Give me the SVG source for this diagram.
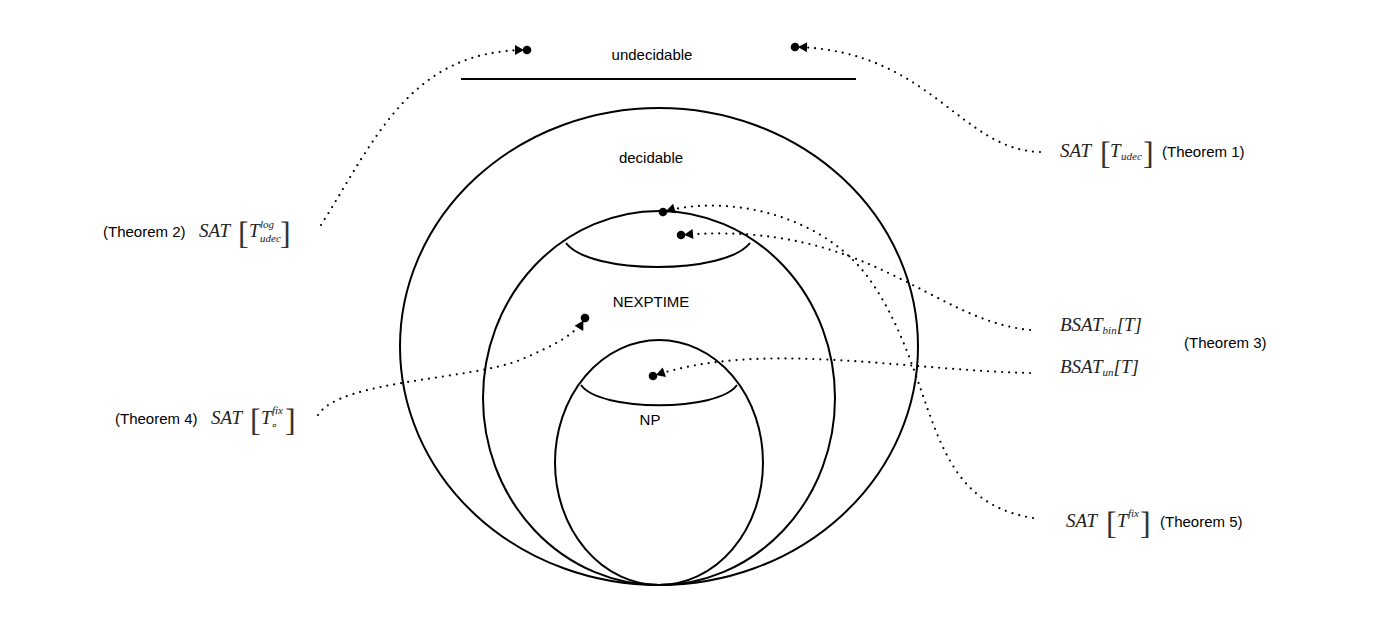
<svg xmlns="http://www.w3.org/2000/svg" width="1376" height="634" viewBox="0 0 1376 634">
<style>
.shape{fill:none;stroke:#000;stroke-width:2}
.lbl{font-family:"Liberation Sans",Arial,sans-serif;font-size:15px;fill:#000}
.m{font-family:"Liberation Serif","Times New Roman",serif;font-style:italic;font-size:19px;fill:#222}
.br{font-family:"Liberation Serif","Times New Roman",serif;font-size:32px;fill:#333}
.s{font-size:11px}
.dot{fill:none;stroke:#000;stroke-width:2.2;stroke-linecap:round;stroke-dasharray:0 7}
</style>
<defs>
<marker id="pin" markerUnits="userSpaceOnUse" viewBox="-14 -6 20 12" refX="0" refY="0" markerWidth="20" markerHeight="12" orient="auto">
<path d="M-12,-5 L-3,0 L-12,5 Z" fill="#000"/>
<circle cx="0" cy="0" r="4.3" fill="#000"/>
</marker>
</defs>
<rect width="1376" height="634" fill="#fff"/>
<g id="undecidable">
<line x1="461" y1="79" x2="856" y2="79" class="shape"/>
<text x="652" y="60" class="lbl" text-anchor="middle">undecidable</text>
</g>
<g id="decidable">
<ellipse cx="659" cy="346.5" rx="259" ry="238.5" class="shape"/>
<text x="651" y="163" class="lbl" text-anchor="middle">decidable</text>
</g>
<g id="nexptime">
<ellipse cx="659" cy="398" rx="176" ry="187" class="shape"/>
<path d="M566,243 C590,275 725,275 750,243" class="shape"/>
<text x="651" y="307" class="lbl" text-anchor="middle">NEXPTIME</text>
</g>
<g id="np">
<ellipse cx="659" cy="462.5" rx="104" ry="122.5" class="shape"/>
<path d="M581,385 C600,412 718,412 737,385" class="shape"/>
<text x="650" y="425" class="lbl" text-anchor="middle">NP</text>
</g>
<g id="label-t1">
<text x="1060" y="157" class="m">SAT</text>
<text x="1100" y="164" class="br">[</text>
<text x="1110" y="157" class="m">T</text>
<text x="1121" y="160" class="m s">udec</text>
<text x="1143" y="164" class="br">]</text>
<text x="1162" y="157" class="lbl">(Theorem 1)</text>
</g>
<g id="label-t2">
<text x="103" y="237" class="lbl">(Theorem 2)</text>
<text x="199" y="237" class="m">SAT</text>
<text x="238" y="244" class="br">[</text>
<text x="249" y="237" class="m">T</text>
<text x="260" y="228" class="m s">log</text>
<text x="260" y="242" class="m s">udec</text>
<text x="280" y="244" class="br">]</text>
</g>
<g id="label-t3">
<text x="1060" y="331" class="m">BSAT<tspan class="s" dy="3">bin</tspan><tspan dy="-3">[T]</tspan></text>
<text x="1060" y="373" class="m">BSAT<tspan class="s" dy="3">un</tspan><tspan dy="-3">[T]</tspan></text>
<text x="1184" y="348" class="lbl">(Theorem 3)</text>
</g>
<g id="label-t4">
<text x="115" y="424" class="lbl">(Theorem 4)</text>
<text x="211" y="424" class="m">SAT</text>
<text x="250" y="431" class="br">[</text>
<text x="261" y="424" class="m">T</text>
<text x="272" y="414" class="m s">fix</text>
<text x="270" y="429" class="m s">∘</text>
<text x="285" y="431" class="br">]</text>
</g>
<g id="label-t5">
<text x="1066" y="527" class="m">SAT</text>
<text x="1106" y="534" class="br">[</text>
<text x="1117" y="527" class="m">T</text>
<text x="1128" y="517" class="m s">fix</text>
<text x="1140" y="534" class="br">]</text>
<text x="1160" y="527" class="lbl">(Theorem 5)</text>
</g>
<g id="connectors">
<path d="M321,225 C375,140 410,50 527,50" class="dot" marker-end="url(#pin)"/>
<path d="M1040,152 C960,150 930,50 795,47" class="dot" marker-end="url(#pin)"/>
<path d="M1030,330 C930,320 870,220 681,235" class="dot" marker-end="url(#pin)"/>
<path d="M1030,373 C900,370 760,340 653,376" class="dot" marker-end="url(#pin)"/>
<path d="M1033,518 C920,500 940,380 870,280 C820,210 720,195 663,212" class="dot" marker-end="url(#pin)"/>
<path d="M318,415 C340,380 470,380 520,360 C555,345 575,335 585,318" class="dot" marker-end="url(#pin)"/>
</g>
</svg>
